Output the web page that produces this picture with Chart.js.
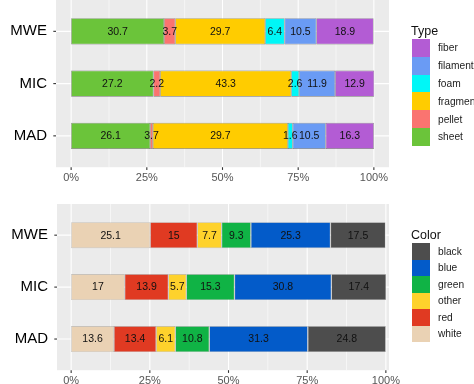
<!DOCTYPE html>
<html lang="en">
<head>
    <title>Litter type and colour by site</title>
    <script src="https://cdn.jsdelivr.net/npm/chart.js"></script>
    <style>
        body {
            margin: 0;
            background: #fff;
            font-family: 'Liberation Sans', Arial, sans-serif;
        }

        .page {
            position: relative;
            width: 474px;
            height: 384px;
            overflow: hidden;
        }

        .page canvas {
            position: absolute;
            left: 0;
        }

        .legend {
            position: absolute;
            left: 411px;
            width: 80px;
        }

        .legend .title {
            font-size: 12.5px;
            color: #111;
            height: 16px;
            line-height: 16px;
        }

        .legend .row {
            display: flex;
            align-items: center;
            white-space: nowrap;
        }

        .legend .key {
            flex: none;
            width: 18px;
            margin-left: 1px;
            margin-right: 8px;
        }

        .legend .name {
            font-size: 10.2px;
            color: #222;
        }
    </style>
</head>
<body>
    <div class="page">
        <canvas id="typeChart" width="474" height="190" style="top:0"></canvas>
        <canvas id="colorChart" width="474" height="194" style="top:190px"></canvas>
        <div class="legend" id="typeLegend" style="top:23px"></div>
        <div class="legend" id="colorLegend" style="top:227px"></div>
    </div>

    <script>
        const sites = ['MWE', 'MIC', 'MAD'];
        const xTicks = [0, 25, 50, 75, 100];
        const xMinor = [12.5, 37.5, 62.5, 87.5];

        // upper panel: share (%) of each item type, stacked left to right
        const types = ['sheet', 'pellet', 'fragment', 'foam', 'filament', 'fiber'];
        const sheet = [30.7, 27.2, 26.1];
        const pellet = [3.7, 2.2, 0.9];
        const fragment = [29.7, 43.3, 44.6];
        const foam = [6.4, 2.6, 1.6];
        const filament = [10.5, 11.9, 10.9];
        const fiber = [18.9, 12.9, 15.9];
        // numbers printed on the MAD bar (they differ from its segment widths)
        const madPrinted = [26.1, 3.7, 29.7, 1.6, 10.5, 16.3];
        const typeColors = ['#6BC43A', '#FA7470', '#FFCC00', '#00F7F7', '#6A9BF4', '#B35CD4'];

        // lower panel: share (%) of each colour
        const colorNames = ['white', 'red', 'other', 'green', 'blue', 'black'];
        const white = [25.1, 17, 13.6];
        const red = [15, 13.9, 13.4];
        const other = [7.7, 5.7, 6.1];
        const green = [9.3, 15.3, 10.8];
        const blue = [25.3, 30.8, 31.3];
        const black = [17.5, 17.4, 24.8];
        const colorFills = ['#EAD2B4', '#E03A22', '#FED22C', '#10B345', '#035BC9', '#4D4D4D'];

        const typeSeries = [sheet, pellet, fragment, foam, filament, fiber];
        const colorSeries = [white, red, other, green, blue, black];

        const typeText = typeSeries.map((s, i) =>
            s.map((v, j) => sites[j] === 'MAD' ? madPrinted[i] : v));
        const colorText = colorSeries;

        // grey panel, white grid lines and small tick marks, ggplot style
        const ggPanel = {
            id: 'ggPanel',
            beforeDatasetsDraw(chart) {
                const { ctx, chartArea: a, scales: { x, y } } = chart;
                const pad = (a.bottom - a.top) / sites.length * 0.1;
                const top = a.top - pad;
                const bottom = a.bottom + pad;
                ctx.save();
                ctx.fillStyle = '#EBEBEB';
                ctx.fillRect(a.left, top, a.right - a.left, bottom - top);
                ctx.strokeStyle = '#FFFFFF';
                ctx.lineWidth = 0.55;
                xMinor.forEach(v => {
                    const px = x.getPixelForValue(v);
                    ctx.beginPath(); ctx.moveTo(px, top); ctx.lineTo(px, bottom); ctx.stroke();
                });
                ctx.lineWidth = 1.1;
                xTicks.forEach(v => {
                    const px = x.getPixelForValue(v);
                    ctx.beginPath(); ctx.moveTo(px, top); ctx.lineTo(px, bottom); ctx.stroke();
                });
                sites.forEach((s, i) => {
                    const py = y.getPixelForValue(i);
                    ctx.beginPath(); ctx.moveTo(a.left, py); ctx.lineTo(a.right, py); ctx.stroke();
                });
                ctx.strokeStyle = '#333333';
                xTicks.forEach(v => {
                    const px = x.getPixelForValue(v);
                    ctx.beginPath(); ctx.moveTo(px, bottom); ctx.lineTo(px, bottom + 2.7); ctx.stroke();
                });
                sites.forEach((s, i) => {
                    const py = y.getPixelForValue(i);
                    ctx.beginPath(); ctx.moveTo(a.left - 2.7, py); ctx.lineTo(a.left, py); ctx.stroke();
                });
                ctx.restore();
            }
        };

        // numbers inside each segment
        const segLabels = {
            id: 'segLabels',
            afterDatasetsDraw(chart, args, opts) {
                const ctx = chart.ctx;
                ctx.save();
                ctx.font = "10.5px 'Liberation Sans', Arial, sans-serif";
                ctx.fillStyle = '#111';
                ctx.textAlign = 'center';
                ctx.textBaseline = 'middle';
                chart.data.datasets.forEach((ds, i) => {
                    chart.getDatasetMeta(i).data.forEach((bar, j) => {
                        ctx.fillText(String(opts.text[i][j]), (bar.x + bar.base) / 2, bar.y + 0.5);
                    });
                });
                ctx.restore();
            }
        };

        function noEdgePadding(axis) {
            axis.paddingTop = 0;
            axis.paddingBottom = 0;
            axis.paddingLeft = 0;
            axis.paddingRight = 0;
        }

        function makePanel(id, names, series, fills, text, opt) {
            return new Chart(document.getElementById(id), {
                type: 'bar',
                data: {
                    labels: sites,
                    datasets: series.map((s, i) => ({
                        label: names[i],
                        data: s,
                        backgroundColor: fills[i],
                        borderColor: opt.border,
                        borderWidth: 0.6,
                        borderSkipped: false,
                        barPercentage: 0.5,
                        categoryPercentage: 1
                    }))
                },
                options: {
                    indexAxis: 'y',
                    responsive: false,
                    animation: false,
                    layout: {
                        padding: { top: opt.top, right: 85, left: 0, bottom: 0 }
                    },
                    plugins: {
                        legend: { display: false },
                        tooltip: { enabled: false },
                        segLabels: { text: text }
                    },
                    scales: {
                        x: {
                            stacked: true,
                            min: opt.xMin,
                            max: opt.xMax,
                            afterBuildTicks: axis => { axis.ticks = xTicks.map(v => ({ value: v })); },
                            afterFit: axis => { axis.height = opt.xHeight; noEdgePadding(axis); },
                            grid: { display: false, drawTicks: false },
                            border: { display: false },
                            ticks: {
                                padding: opt.tickPad,
                                color: '#555',
                                font: { family: "'Liberation Sans', Arial, sans-serif", size: 11 },
                                callback: v => v + '%'
                            }
                        },
                        y: {
                            stacked: true,
                            afterFit: axis => { axis.width = opt.yWidth; noEdgePadding(axis); },
                            grid: { display: false, drawTicks: false },
                            border: { display: false },
                            ticks: {
                                padding: 9,
                                color: '#000',
                                font: { family: "'Liberation Sans', Arial, sans-serif", size: 15 }
                            }
                        }
                    }
                },
                plugins: [ggPanel, segLabels]
            });
        }

        makePanel('typeChart', types, typeSeries, typeColors, typeText, {
            border: '#7A7A7A', top: 5.2, xHeight: 28, xMin: -5, xMax: 105, yWidth: 56, tickPad: 9
        });
        makePanel('colorChart', colorNames, colorSeries, colorFills, colorText, {
            border: 'rgba(60,60,60,0.35)', top: 19.2, xHeight: 19, xMin: -4.5, xMax: 101, yWidth: 57, tickPad: 9
        });

        // legends, listed in reverse stacking order like ggplot
        function buildLegend(id, title, names, fills, keyH) {
            const box = document.getElementById(id);
            let html = '<div class="title">' + title + '</div>';
            for (let i = names.length - 1; i >= 0; i--) {
                html += '<div class="row" style="height:' + keyH + 'px">' +
                    '<div class="key" style="height:' + keyH + 'px;background:' + fills[i] + '"></div>' +
                    '<div class="name">' + names[i] + '</div></div>';
            }
            box.innerHTML = html;
        }

        buildLegend('typeLegend', 'Type', types, typeColors, 17.8);
        buildLegend('colorLegend', 'Color', colorNames, colorFills, 16.5);
    </script>
</body>
</html>
